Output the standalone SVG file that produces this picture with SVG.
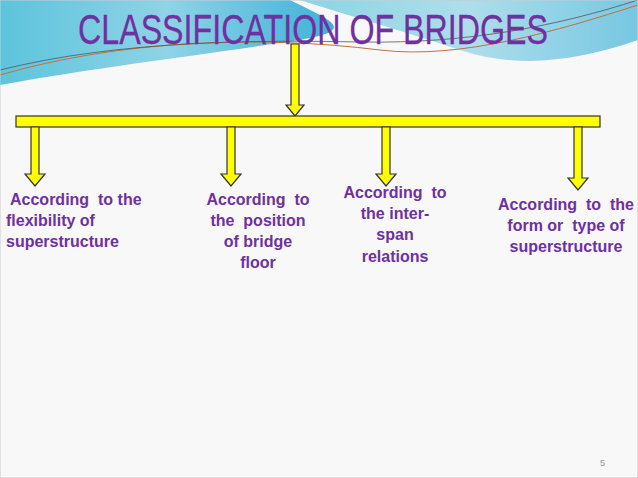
<svg xmlns="http://www.w3.org/2000/svg" width="638" height="478" viewBox="0 0 638 478">
<defs>
<linearGradient id="bg" x1="0" y1="0" x2="1" y2="0"><stop offset="0" stop-color="#5cc4dc"/><stop offset="0.5" stop-color="#8fd3e6"/><stop offset="1" stop-color="#3fb2d8"/></linearGradient>
<style>
.arr{fill:#ffff00;stroke:#333;stroke-width:1.2}
.lbl{font-family:"Liberation Sans",Arial,sans-serif;font-weight:bold;font-size:16px;fill:#7030a0}
</style>
</defs>
<rect width="638" height="478" fill="#f8f8f8"/>
<g id="background">
<path d="M0 0 H290 C330 20 360 30 300 40 C200 55 80 70 0 85 Z" fill="url(#bg)"/>
<path d="M300 0 H638 V40 C580 60 520 70 460 50 C400 30 330 10 300 0 Z" fill="url(#bg)" opacity="0.7"/>
<path d="M0 75 C120 40 260 35 380 50 C460 60 560 30 638 5" fill="none" stroke="#c07040" stroke-width="1"/>
<path d="M0 70 C120 40 260 40 360 42 C470 44 560 25 638 0" fill="none" stroke="#555" stroke-width="0.8"/>
<rect x="0" y="0" width="638" height="478" fill="none" stroke="#ccc"/>
</g>
<g id="title"><text x="313" y="44" text-anchor="middle" textLength="470" lengthAdjust="spacingAndGlyphs" font-family="Liberation Sans,Arial,sans-serif" font-size="42" stroke="#7030a0" stroke-width="0.3" fill="#7030a0">CLASSIFICATION OF BRIDGES</text></g>
<g id="connectors">
<polygon class="arr" points="291,44 299,44 299,105 304,105 295,116 286,105 291,105"/>
<rect class="arr" x="16" y="116" width="584" height="11"/>
<polygon class="arr" points="31,127 39,127 39,174 45,174 35,186 25,174 31,174"/>
<polygon class="arr" points="227,127 235,127 235,174 241,174 231,186 221,174 227,174"/>
<polygon class="arr" points="382,127 390,127 390,174 396,174 386,186 376,174 382,174"/>
<polygon class="arr" points="574,127 582,127 582,178 588,178 578,190 568,178 574,178"/>
</g>
<g id="n1" class="lbl"><text x="10" y="205">According&#160; to the</text><text x="6" y="226">flexibility of</text><text x="6" y="247">superstructure</text></g>
<g id="n2" class="lbl" text-anchor="middle"><text x="258" y="205">According&#160; to</text><text x="258" y="226">the&#160; position</text><text x="258" y="247">of bridge</text><text x="258" y="268">floor</text></g>
<g id="n3" class="lbl" text-anchor="middle"><text x="395" y="198">According&#160; to</text><text x="395" y="219">the inter-</text><text x="395" y="240">span</text><text x="395" y="262">relations</text></g>
<g id="n4" class="lbl" text-anchor="middle"><text x="566" y="210">According&#160; to&#160; the</text><text x="566" y="231">form or&#160; type of</text><text x="566" y="252">superstructure</text></g>
<text x="600" y="466" font-family="Liberation Sans,sans-serif" font-size="9" fill="#999">5</text>
</svg>
